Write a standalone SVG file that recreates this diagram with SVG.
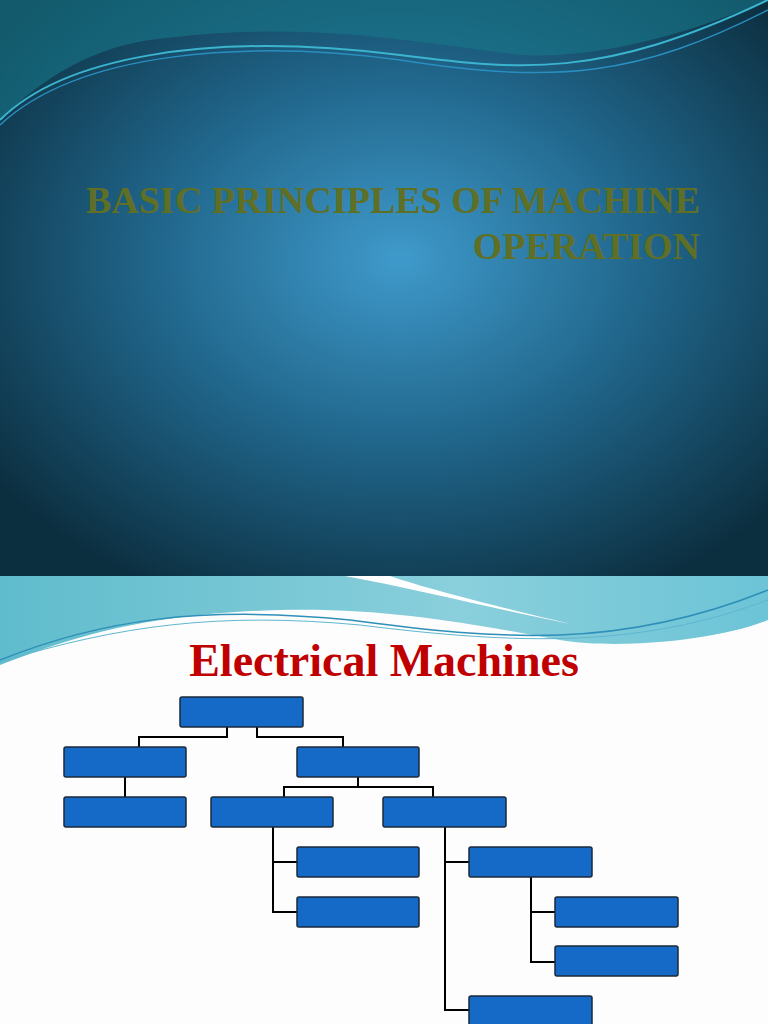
<svg xmlns="http://www.w3.org/2000/svg" width="768" height="1024" viewBox="0 0 768 1024">
<defs>
<radialGradient id="bg" cx="0.52" cy="0.45" r="0.65">
<stop offset="0" stop-color="#3f9acb"/>
<stop offset="0.5" stop-color="#20658a"/>
<stop offset="1" stop-color="#0c2f40"/>
</radialGradient>
<linearGradient id="w2" x1="0" y1="0" x2="1" y2="0">
<stop offset="0" stop-color="#5fbccc"/>
<stop offset="0.6" stop-color="#8acfdc"/>
<stop offset="1" stop-color="#6cc4d6"/>
</linearGradient>
<style>
.b{fill:#1569c7;stroke:#1a2a3a;stroke-width:1.5}
.c{fill:none;stroke:#000;stroke-width:2}
</style>
</defs>
<rect x="0" y="0" width="768" height="576" fill="url(#bg)"/>
<path d="M0,0 H768 V0 C700,30 600,60 520,55 C400,40 300,20 150,40 C80,50 30,90 0,120 Z" fill="#17788a" opacity="0.6"/>
<path d="M0,120 C60,60 200,30 400,55 C520,70 600,80 768,0" fill="none" stroke="#3bb5cf" stroke-width="2"/>
<path d="M0,125 C80,50 250,40 400,60 C560,85 640,75 768,10" fill="none" stroke="#2a8fc0" stroke-width="1.5"/>
<text x="700" y="213" font-family="Liberation Serif,serif" font-weight="bold" font-size="38" fill="#5f6f26" text-anchor="end">BASIC PRINCIPLES OF MACHINE</text>
<text x="700" y="259" font-family="Liberation Serif,serif" font-weight="bold" font-size="38" fill="#5f6f26" text-anchor="end">OPERATION</text>
<rect x="0" y="576" width="768" height="448" fill="#fdfdfd"/>
<path d="M0,576 H768 V620 C720,640 620,650 560,640 C450,620 350,600 200,615 C100,625 40,650 0,665 Z" fill="url(#w2)"/>
<path d="M345,576 C420,590 500,610 570,624 C520,612 430,590 390,576 Z" fill="#fff"/>
<path d="M0,660 C100,620 200,605 350,620 C500,640 620,650 768,590" fill="none" stroke="#2e8fb8" stroke-width="1.5"/>
<path d="M0,662 C120,625 220,612 360,625 C520,645 640,648 768,600" fill="none" stroke="#5fb6d0" stroke-width="1"/>
<text x="384" y="676" font-family="Liberation Serif,serif" font-weight="bold" font-size="46" fill="#c00000" text-anchor="middle">Electrical Machines</text>
<g id="connectors">
<path class="c" d="M227,727 V737 H139 V747 M257,727 V737 H343 V747 M125,777 V797 M358,777 V787 H284 V797 M358,787 H433 V797 M273,827 V912 H297 M273,862 H297 M445,827 V1010 H469 M445,862 H469 M531,877 V962 H555 M531,912 H555"/>
</g>
<g id="n1"><rect class="b" x="180" y="697" width="123" height="30" rx="2"/></g>
<g id="n2"><rect class="b" x="64" y="747" width="122" height="30" rx="2"/></g>
<g id="n3"><rect class="b" x="297" y="747" width="122" height="30" rx="2"/></g>
<g id="n4"><rect class="b" x="64" y="797" width="122" height="30" rx="2"/></g>
<g id="n5"><rect class="b" x="211" y="797" width="122" height="30" rx="2"/></g>
<g id="n6"><rect class="b" x="383" y="797" width="123" height="30" rx="2"/></g>
<g id="n7"><rect class="b" x="297" y="847" width="122" height="30" rx="2"/></g>
<g id="n8"><rect class="b" x="297" y="897" width="122" height="30" rx="2"/></g>
<g id="n9"><rect class="b" x="469" y="847" width="123" height="30" rx="2"/></g>
<g id="n10"><rect class="b" x="555" y="897" width="123" height="30" rx="2"/></g>
<g id="n11"><rect class="b" x="555" y="946" width="123" height="30" rx="2"/></g>
<g id="n12"><rect class="b" x="469" y="996" width="123" height="32" rx="2"/></g>
</svg>
